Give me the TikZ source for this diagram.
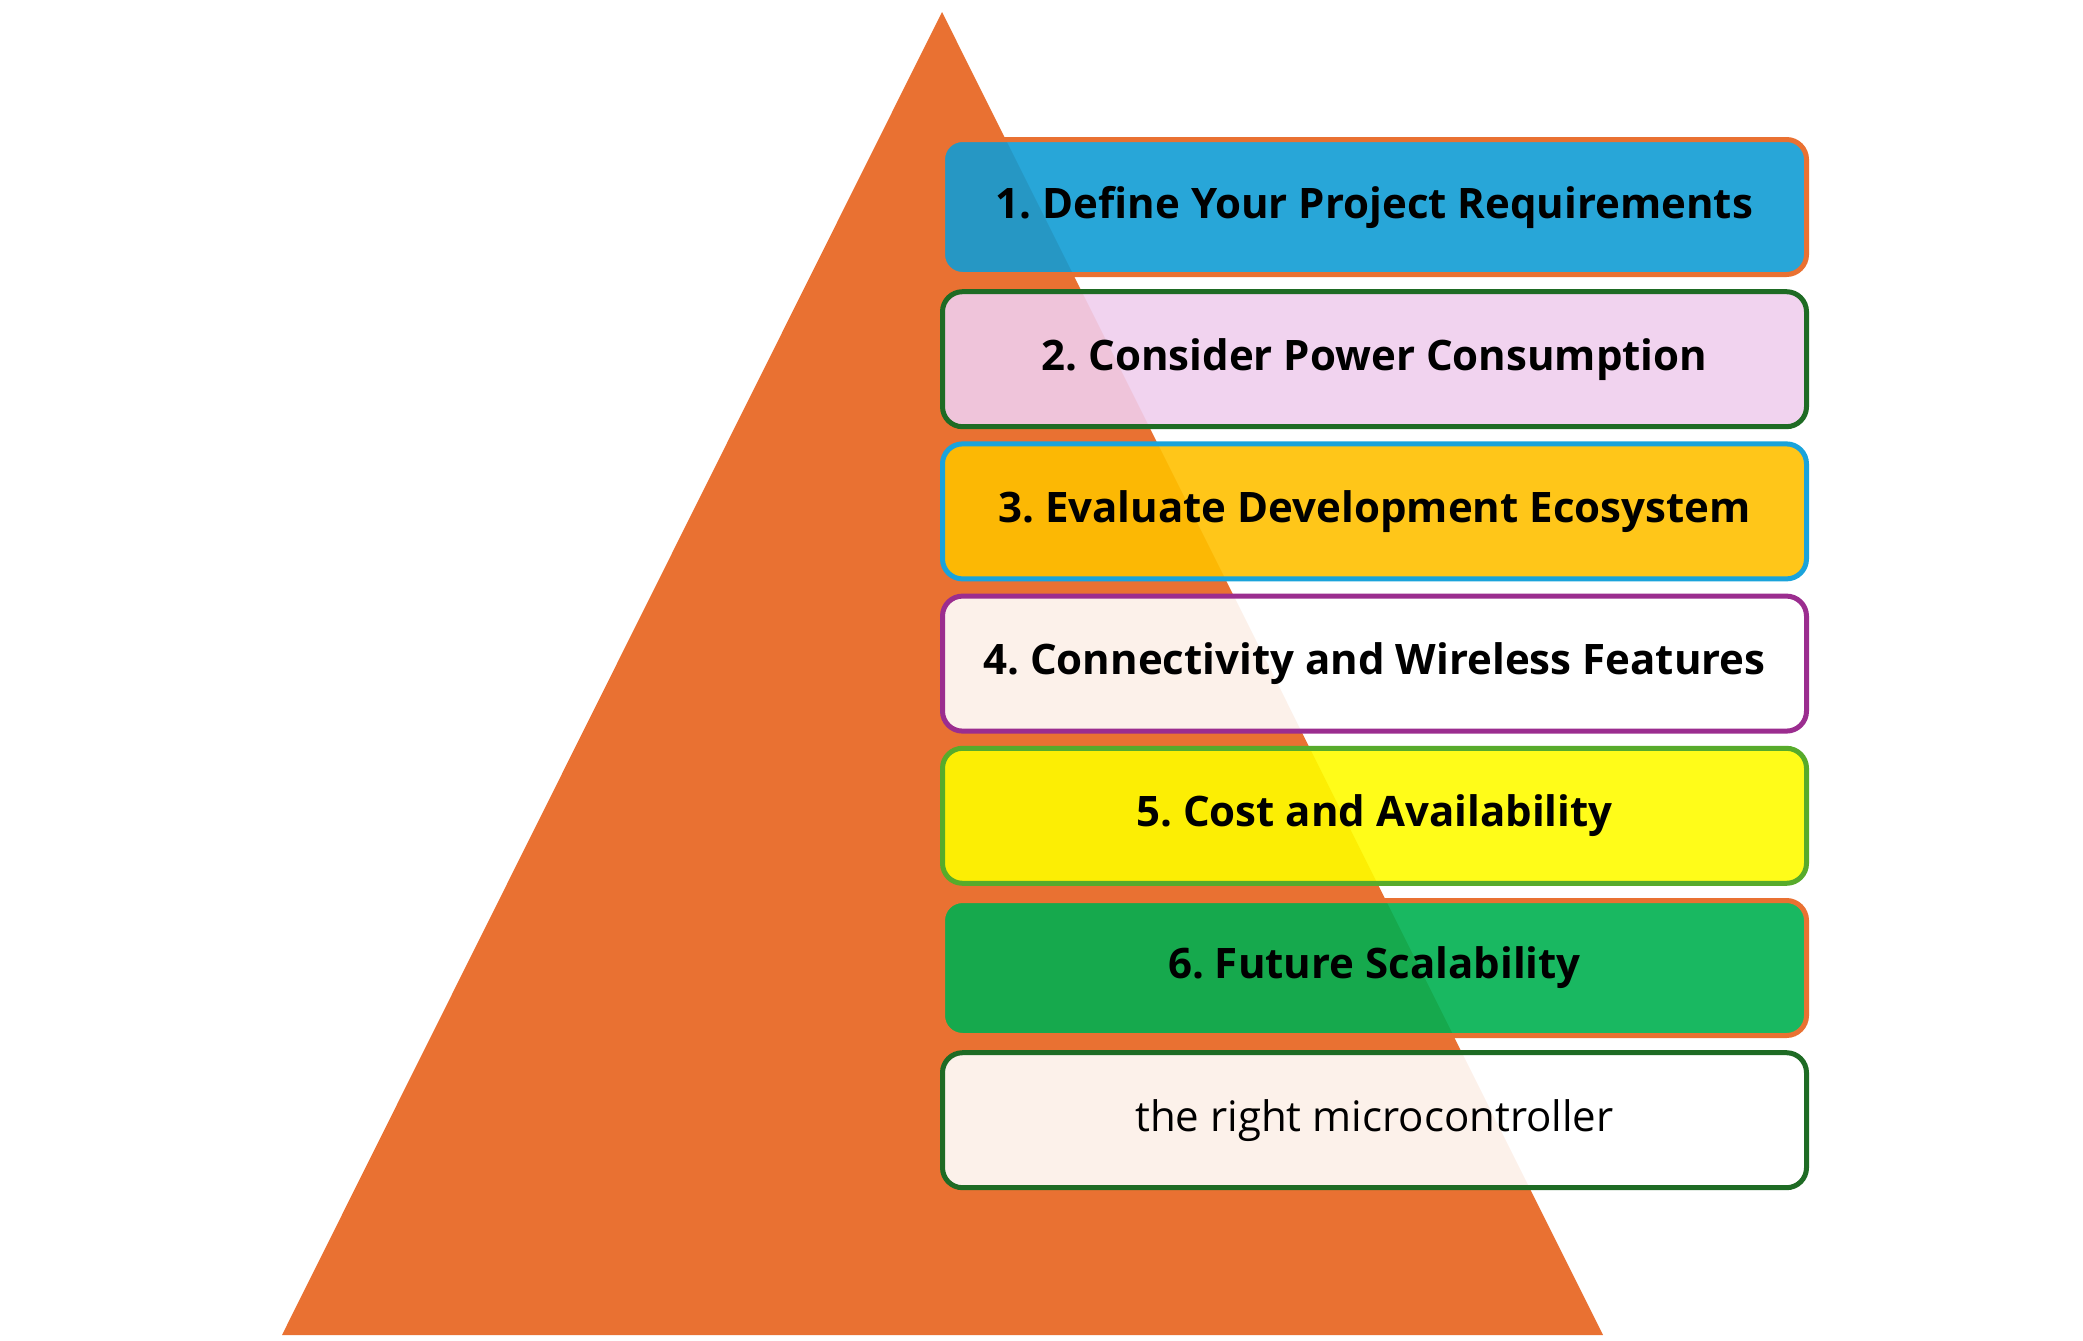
\documentclass[tikz,border=0pt]{standalone}
\usepackage{fontspec}
\setmainfont{Open Sans}
\frenchspacing
\definecolor{tri}{HTML}{E97132}
\definecolor{cblue}{HTML}{119CD4}
\definecolor{cpink}{HTML}{F0CEED}
\definecolor{cgold}{HTML}{FFC000}
\definecolor{cyel}{HTML}{FFFC00}
\definecolor{cgreen}{HTML}{00B050}
\definecolor{bdgreen}{HTML}{1E6B24}
\definecolor{bblue}{HTML}{1AA3DB}
\definecolor{bpurple}{HTML}{9B2D8F}
\definecolor{blime}{HTML}{57AB2B}
\begin{document}
\begin{tikzpicture}[x=1pt,y=-1pt,
  stepbox/.style={draw, line width=5pt, rounded corners=20pt, fill opacity=0.9, text opacity=1,
    minimum width=864pt, minimum height=135pt, inner sep=0pt,
    font=\fontsize{42}{50}\selectfont\bfseries},
  lastbox/.style={stepbox, font=\fontsize{42}{50}\selectfont}]
\useasboundingbox (0,0) rectangle (2083,1341);
\fill[tri] (942,12) coordinate (apex) -- (282,1335) coordinate (bl) -- (1603,1335) coordinate (br) -- cycle;
\node[stepbox, draw=tri, fill=cblue] (b1) at (1374.5,207) {1. Define Your Project Requirements};
\node[stepbox, draw=bdgreen, fill=cpink] (b2) at (1374.5,359.2) {2. Consider Power Consumption};
\node[stepbox, draw=bblue, fill=cgold] (b3) at (1374.5,511.4) {3. Evaluate Development Ecosystem};
\node[stepbox, draw=bpurple, fill=white] (b4) at (1374.5,663.6) {4. Connectivity and Wireless Features};
\node[stepbox, draw=blime, fill=cyel] (b5) at (1374.5,815.8) {5. Cost and Availability};
\node[stepbox, draw=tri, fill=cgreen] (b6) at (1374.5,968) {6. Future Scalability};
\node[lastbox, draw=bdgreen, fill=white] (b7) at (1374.5,1120.2) {the right microcontroller};
\end{tikzpicture}
\end{document}
